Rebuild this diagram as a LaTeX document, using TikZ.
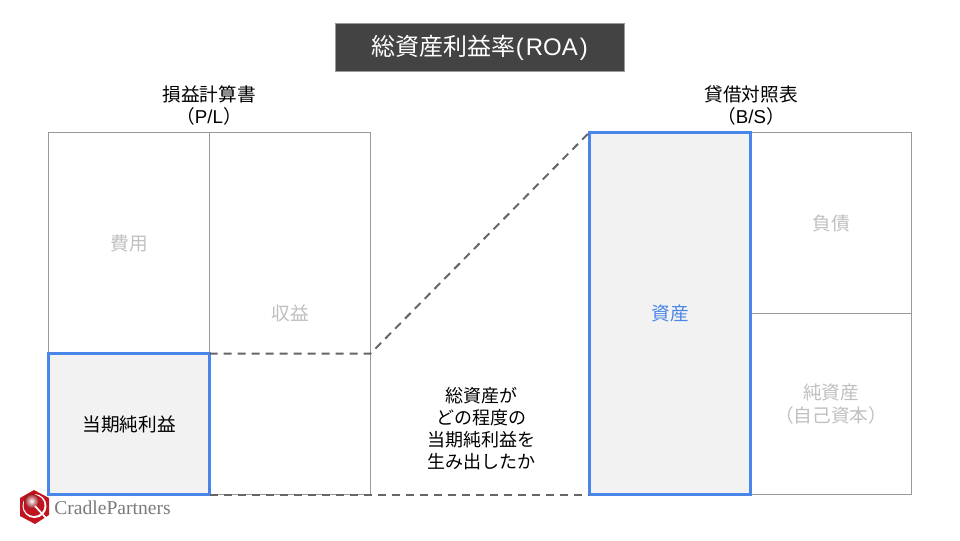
\documentclass[tikz,border=0pt]{standalone}
\usepackage{fontspec}
\setmainfont{Liberation Sans}
\newfontfamily\cjk{Noto Sans CJK JP}
\newfontfamily\logofont{Liberation Serif}
\definecolor{roablue}{HTML}{4A86E8}
\definecolor{roagray}{HTML}{999999}
\definecolor{roafaint}{HTML}{C0C0C0}
\definecolor{roadark}{HTML}{434343}
\definecolor{roaguide}{HTML}{666666}
\definecolor{roafill}{HTML}{F2F2F2}
\definecolor{roared}{HTML}{C0141E}
\tikzset{
  cell/.style={draw=roagray, line width=0.75pt, fill=white, inner sep=0pt, outer sep=0pt, font=\cjk\fontsize{14}{17}\selectfont, text=roafaint, align=center},
  hilite/.style={cell, draw=roablue, line width=2.25pt, fill=roafill},
  caption/.style={inner sep=0pt, align=center, font=\cjk\fontsize{14}{16}\selectfont, text=black},
  guide/.style={draw=roaguide, line width=1.5pt, dash pattern=on 6pt off 4.5pt}
}
\begin{document}
\begin{tikzpicture}[x=0.75pt, y=-0.75pt]
\useasboundingbox (0,0) rectangle (960,540);
% title
\node[draw=roagray, fill=roadark, minimum width=216.75pt, minimum height=36pt, inner sep=0pt, outer sep=0pt] (title) at (480,47.3) {};
\node[text=white, inner sep=0pt, font=\cjk\fontsize{18}{22}\selectfont] (titletext) at (479.5,48) {総資産利益率{\fontspec{Liberation Sans}\kern0.5pt(\kern1.5pt ROA\kern1.5pt)}};
% P/L
\node[caption] (plhead) at (209,105.5) {損益計算書\\（{\fontspec{Liberation Sans}P/L}）};
\node[cell, minimum width=120.75pt, minimum height=165.75pt] (expense) at (129,243) {費用};
\node[cell, minimum width=120.75pt, minimum height=271.5pt] (revenue) at (290,313.5) {収益};
\node[hilite, text=black, minimum width=120.75pt, minimum height=105.75pt] (income) at (129,424) {当期純利益};
% B/S
\node[caption] (bshead) at (751,105.5) {貸借対照表\\（{\fontspec{Liberation Sans}B/S}）};
\node[cell, minimum width=120.375pt, minimum height=135.75pt] (debt) at (831.25,223) {負債};
\node[cell, minimum width=120.375pt, minimum height=135.75pt] (equity) at (831.25,404) {純資産\\（自己資本）};
\node[hilite, text=roablue, minimum width=121.125pt, minimum height=271.5pt] (assets) at (670,313.5) {資産};
% dashed guides
\coordinate (bend) at (revenue.east |- income.north);
\draw[guide] (income.north east) -- (bend) -- (assets.north west);
\draw[guide] (income.south east) -- (assets.south west);
\node[caption, font=\cjk\fontsize{13.5}{16.5}\selectfont] (note) at (481,428.7) {総資産が\\どの程度の\\当期純利益を\\生み出したか};
% logo
\fill[roared] (34,490) -- (49,498) -- (49,515) -- (35,524) -- (20,516) -- (20,498) -- cycle;
\fill[white] (34.5,506) circle (12);
\fill[roared] (34,505.5) circle (10.5);
\shade[inner color=white, outer color=roared!80!black] (31.5,501) circle (7.5);
\draw[white, line width=1.3pt] (35,506) -- (46,518);
\node[anchor=west, inner sep=0pt, text=black!52, font=\logofont\fontsize{14.7}{17}\selectfont] (logo) at (54,508) {CradlePartners};
\end{tikzpicture}
\end{document}
